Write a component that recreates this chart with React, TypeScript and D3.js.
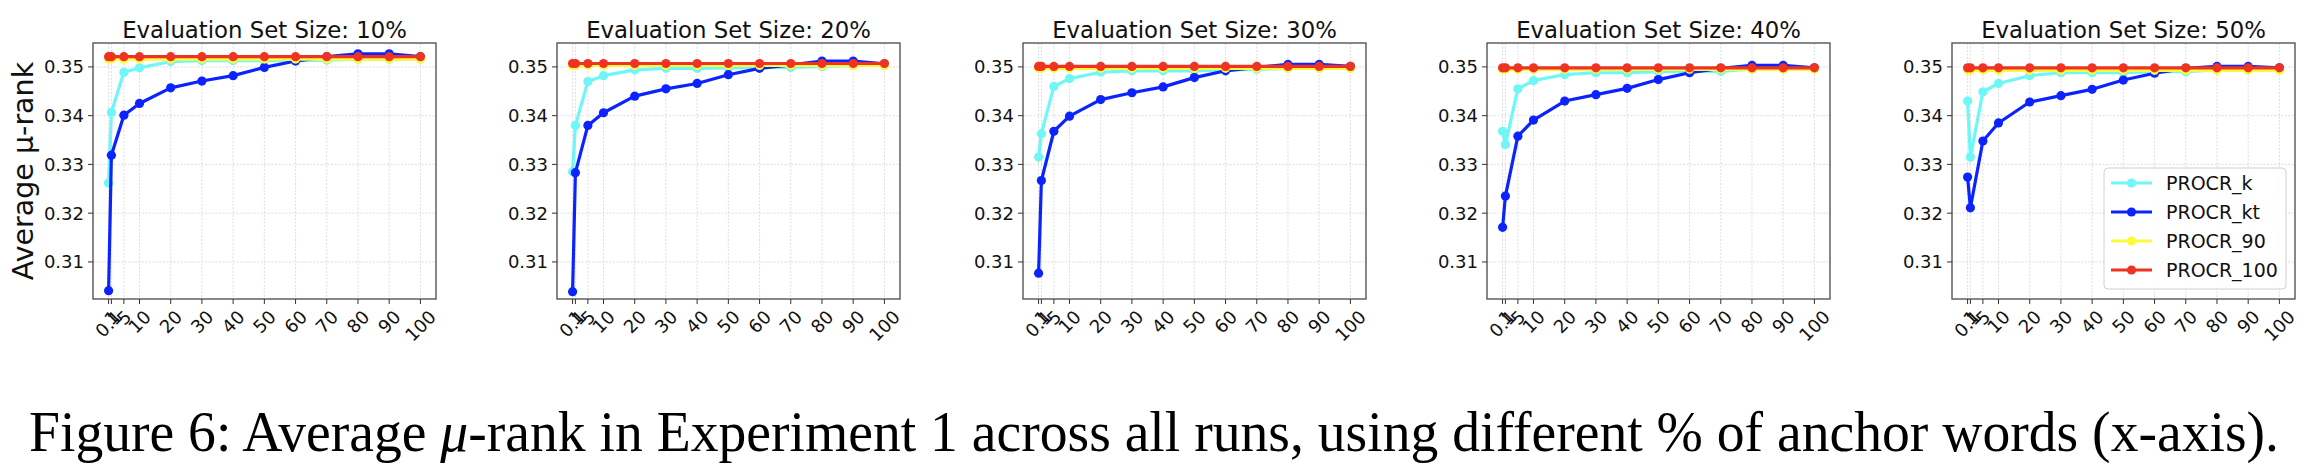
import * as d3 from 'd3'

// anchor-word percentages on the x axis
const ANCHORS = [0.1, 1, 5, 10, 20, 30, 40, 50, 60, 70, 80, 90, 100]
const TICK_LABELS = ['0.1', '1', '5', '10', '20', '30', '40', '50', '60', '70', '80', '90', '100']
const Y_TICKS = [0.31, 0.32, 0.33, 0.34, 0.35]
const EVAL_SIZES = ['10%', '20%', '30%', '40%', '50%']

// one row per evaluation set size
const PROCR_K = [
  [0.3262, 0.3407, 0.3489, 0.3498, 0.3511, 0.3513, 0.3513, 0.3513, 0.3513, 0.3514, 0.3516, 0.3516, 0.3516],
  [0.3285, 0.338, 0.347, 0.3482, 0.3494, 0.3497, 0.3497, 0.3498, 0.3499, 0.3499, 0.3501, 0.3503, 0.3503],
  [0.3315, 0.3363, 0.346, 0.3476, 0.3489, 0.3492, 0.3492, 0.3492, 0.3494, 0.3495, 0.3497, 0.3497, 0.3497],
  [0.3368, 0.3341, 0.3455, 0.3472, 0.3484, 0.3488, 0.3488, 0.349, 0.3491, 0.3491, 0.3496, 0.3496, 0.3496],
  [0.343, 0.3315, 0.3449, 0.3466, 0.3482, 0.3488, 0.3488, 0.3488, 0.349, 0.349, 0.3494, 0.3494, 0.3494],
]
const PROCR_KT = [
  [0.3041, 0.3319, 0.3401, 0.3425, 0.3457, 0.3471, 0.3482, 0.3499, 0.3512, 0.3521, 0.3527, 0.3527, 0.3521],
  [0.3039, 0.3283, 0.338, 0.3406, 0.344, 0.3455, 0.3466, 0.3484, 0.3497, 0.3504, 0.3512, 0.3512, 0.3506],
  [0.3077, 0.3267, 0.3368, 0.3399, 0.3433, 0.3447, 0.3459, 0.3478, 0.3492, 0.3499, 0.3505, 0.3505, 0.3501],
  [0.3171, 0.3235, 0.3358, 0.3391, 0.343, 0.3443, 0.3456, 0.3474, 0.3488, 0.3497, 0.3503, 0.3503, 0.3498],
  [0.3274, 0.3211, 0.3348, 0.3385, 0.3428, 0.3441, 0.3454, 0.3473, 0.3487, 0.3497, 0.3501, 0.3501, 0.3498],
]
const PROCR_90 = [0.3516, 0.3503, 0.3497, 0.3495, 0.3493]
const PROCR_100 = [0.3521, 0.3507, 0.3501, 0.3498, 0.3498]

const SERIES = [
  { name: 'PROCR_k', color: '#6ff6f6' },
  { name: 'PROCR_kt', color: '#0b24ff' },
  { name: 'PROCR_90', color: '#fbfb3c' },
  { name: 'PROCR_100', color: '#ee3322' },
]

const FONT = 'DejaVu Sans, sans-serif'
const PANEL_LEFT = [93, 557, 1023, 1487, 1952]
const PANEL_W = 343
const TOP = 43
const BOTTOM = 299

const y = d3.scaleLinear().domain([0.3024, 0.3549]).range([BOTTOM, TOP])

// rough DejaVu Sans width for digit strings
const labelWidth = (s: string, size: number) =>
  [...s].reduce((w, c) => w + (c === '.' ? 0.318 : 0.636), 0) * size

function Panel({ idx }: { idx: number }) {
  const left = PANEL_LEFT[idx]
  const x = d3.scaleLinear().domain([0.1 - 4.995, 104.995]).range([left, left + PANEL_W])
  const line = d3
    .line<number>()
    .x((_, i) => x(ANCHORS[i]))
    .y((d) => y(d))

  const rows = [
    PROCR_K[idx],
    PROCR_KT[idx],
    ANCHORS.map(() => PROCR_90[idx]),
    ANCHORS.map(() => PROCR_100[idx]),
  ]

  return (
    <g>
      {/* grid */}
      {ANCHORS.map((a) => (
        <line key={'gx' + a} x1={x(a)} x2={x(a)} y1={TOP} y2={BOTTOM}
          stroke="#d6d6d6" strokeWidth={0.8} strokeDasharray="2,1.5" />
      ))}
      {Y_TICKS.map((t) => (
        <line key={'gy' + t} x1={left} x2={left + PANEL_W} y1={y(t)} y2={y(t)}
          stroke="#d6d6d6" strokeWidth={0.8} strokeDasharray="2,1.5" />
      ))}

      {rows.map((vals, s) => (
        <g key={s}>
          <path d={line(vals) ?? ''} fill="none" stroke={SERIES[s].color} strokeWidth={3.2}
            strokeLinejoin="round" />
          {vals.map((v, i) => (
            <circle key={i} cx={x(ANCHORS[i])} cy={y(v)} r={4.6} fill={SERIES[s].color} />
          ))}
        </g>
      ))}

      <rect x={left} y={TOP} width={PANEL_W} height={BOTTOM - TOP} fill="none"
        stroke="#555" strokeWidth={1.4} />

      {/* x ticks */}
      {ANCHORS.map((a, i) => {
        const w = labelWidth(TICK_LABELS[i], 18)
        const h = (w + 13) * Math.SQRT1_2
        const cy = BOTTOM + 10 + h / 2
        return (
          <g key={'xt' + a}>
            <line x1={x(a)} x2={x(a)} y1={BOTTOM} y2={BOTTOM + 5} stroke="#333" strokeWidth={1} />
            <text x={x(a)} y={cy} transform={`rotate(-45 ${x(a)} ${cy})`} textAnchor="middle"
              dominantBaseline="central" fontSize={18} fontFamily={FONT} fill="#111">
              {TICK_LABELS[i]}
            </text>
          </g>
        )
      })}

      {/* y ticks */}
      {Y_TICKS.map((t) => (
        <g key={'yt' + t}>
          <line x1={left - 5} x2={left} y1={y(t)} y2={y(t)} stroke="#333" strokeWidth={1} />
          <text x={left - 9} y={y(t)} textAnchor="end" dominantBaseline="central"
            fontSize={18} fontFamily={FONT} fill="#111">
            {d3.format('.2f')(t)}
          </text>
        </g>
      ))}

      <text x={left + PANEL_W / 2} y={38} textAnchor="middle" fontSize={22.8}
        fontFamily={FONT} fill="#111">
        Evaluation Set Size: {EVAL_SIZES[idx]}
      </text>
    </g>
  )
}

function Legend() {
  const bx = 2104
  const by = 168
  return (
    <g>
      <rect x={bx} y={by} width={182} height={121} rx={4} fill="white" fillOpacity={0.85}
        stroke="#d0d0d0" strokeWidth={1} />
      {SERIES.map((s, i) => {
        const ly = by + 15 + i * 29
        return (
          <g key={s.name}>
            <line x1={bx + 7} x2={bx + 48} y1={ly} y2={ly} stroke={s.color} strokeWidth={3.2} />
            <circle cx={bx + 27.5} cy={ly} r={4.6} fill={s.color} />
            <text x={bx + 62} y={ly} dominantBaseline="central" fontSize={19}
              fontFamily={FONT} fill="#111">
              {s.name}
            </text>
          </g>
        )
      })}
    </g>
  )
}

export default function App() {
  return (
    <svg width={2322} height={466} style={{ position: 'absolute', left: 0, top: 0, background: 'white' }}>
      <rect width={2322} height={466} fill="white" />
      {EVAL_SIZES.map((_, i) => (
        <Panel key={i} idx={i} />
      ))}
      <Legend />
      <text x={33} y={171} transform="rotate(-90 33 171)" textAnchor="middle" fontSize={28.5}
        fontFamily={FONT} fill="#111">
        Average μ-rank
      </text>
      <text x={29} y={451} fontSize={56} fontFamily="Liberation Serif, Times New Roman, serif"
        fill="#000" textLength={2250} lengthAdjust="spacingAndGlyphs">
        Figure 6: Average <tspan fontStyle="italic">μ</tspan>-rank in Experiment 1 across all runs, using different % of anchor words (x-axis).
      </text>
    </svg>
  )
}
